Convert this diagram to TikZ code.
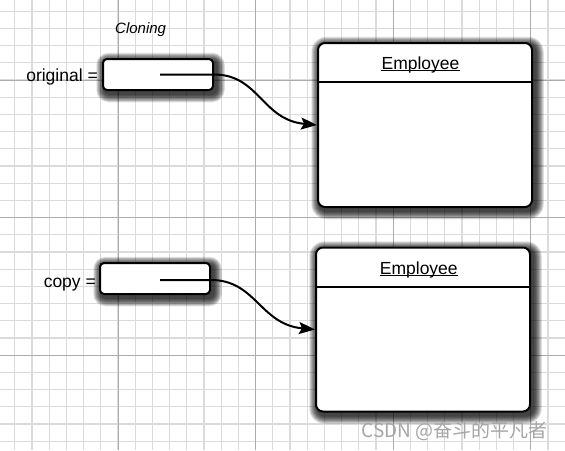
\documentclass[tikz,border=0pt]{standalone}
\usepackage{fontspec}
\setmainfont{Liberation Sans}
\newfontfamily\cjkfont{Noto Sans CJK SC}
\usetikzlibrary{arrows.meta}
\pgfdeclarelayer{gridlayer}
\pgfdeclarelayer{shadowlayer}
\pgfsetlayers{gridlayer,shadowlayer,main}
\newcommand{\fuzzshadow}[2]{%
  \foreach \k in {1,...,11}{%
    \fill[black,opacity=0.11,rounded corners={#2+\k*0.75pt}]
      ([shift={(2.5pt-\k*0.75pt,-3pt+\k*0.75pt)}]#1.north west)
      rectangle ([shift={(2.5pt+\k*0.75pt,-3pt-\k*0.75pt)}]#1.south east);
  }}
\begin{document}
\begin{tikzpicture}[x=1pt,y=-1pt,
  fine/.style={gray!28,line width=1.3pt},
  major/.style={gray!65,line width=0.9pt},
  refbox/.style={draw=black,line width=2pt,fill=white,rounded corners=4pt,minimum width=110pt,minimum height=31pt,inner sep=0pt},
  objbox/.style={draw=black,line width=2pt,fill=white,rounded corners=7pt,minimum width=214pt,minimum height=164pt,inner sep=0pt},
  lbl/.style={font=\fontsize{17.5}{20}\selectfont,inner sep=0pt},
  divider/.style={line width=1.3pt},
  uline/.style={line width=1pt},
  conn/.style={line width=2pt,-{Stealth[length=16pt,width=12pt,inset=3pt]}}]
\useasboundingbox (0,0) rectangle (565,450);

\node[font=\fontsize{15}{18}\selectfont\itshape,inner sep=0pt,anchor=base west] (title) at (115,33) {Cloning};

\node[refbox] (orig) at (158,74.5) {};
\node[refbox] (copyref) at (155,278.5) {};
\node[objbox] (emp1) at (425,125) {};
\node[objbox] (emp2) at (423,329.5) {};

\begin{pgfonlayer}{gridlayer}
\fill[white] (0,0) rectangle (565,450);
\begin{scope}
\clip (0,0) rectangle (565,450);
\foreach \i in {-7,...,26} \draw[fine] ({118+17.2*\i},0) -- ({118+17.2*\i},450);
\foreach \j in {-5,...,22} \draw[fine] (0,{80+17.2*\j}) -- (565,{80+17.2*\j});
\foreach \i in {0,...,3} \draw[major] ({118+137.6*\i},0) -- ++(0,450);
\foreach \j in {0,1,2} \draw[major] (0,{80+137.5*\j}) -- ++(565,0);
\end{scope}
\end{pgfonlayer}

\begin{pgfonlayer}{shadowlayer}
\fuzzshadow{orig}{4pt}
\fuzzshadow{copyref}{4pt}
\fuzzshadow{emp1}{7pt}
\fuzzshadow{emp2}{7pt}
\end{pgfonlayer}

\draw[divider] (emp1.west |- 0,82) -- (emp1.east |- 0,82);
\draw[divider] (emp2.west |- 0,287) -- (emp2.east |- 0,287);

\node[lbl,anchor=base east] (origlbl) at (98,81.5) {original =};
\node[lbl,anchor=base east] (copylbl) at (96,287) {copy =};

\node[lbl,anchor=base] (e1t) at (420.5,69.3) {Employee};
\node[lbl,anchor=base] (e2t) at (418.8,274.3) {Employee};
\draw[uline] ([yshift=-1.6pt]e1t.base west) -- ([yshift=-1.6pt]e1t.base east);
\draw[uline] ([yshift=-1.6pt]e2t.base west) -- ([yshift=-1.6pt]e2t.base east);

\coordinate (s1) at (160,74.5);
\coordinate (s2) at (160,280);
\draw[conn] (s1) -- (orig.east) .. controls +(45,0) and +(-55,-5) .. (emp1.west);
\draw[conn] (s2) -- (copyref.east |- s2) .. controls +(45,0) and +(-55,-5) .. (emp2.west);

\node[font=\cjkfont\fontsize{19}{22}\selectfont,text=gray!70,anchor=base east,inner sep=0pt] (wm) at (548,437) {CSDN @奋斗的平凡者};
\end{tikzpicture}
\end{document}
